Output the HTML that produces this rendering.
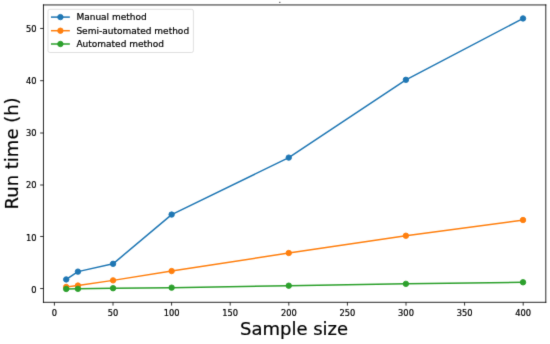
<!DOCTYPE html>
<html><head><meta charset="utf-8"><title>Run time vs sample size</title>
<style>html,body{margin:0;padding:0;background:#fff;overflow:hidden}svg{display:block}</style>
</head><body>
<svg width="550" height="344" viewBox="0 0 550 344">
<filter id="soft" x="0" y="0" width="550" height="344" filterUnits="userSpaceOnUse" color-interpolation-filters="sRGB"><feConvolveMatrix order="3" kernelMatrix="0.01 0.08 0.01 0.08 0.64 0.08 0.01 0.08 0.01" edgeMode="duplicate"/></filter>
<rect width="550" height="344" fill="#fff"/>
<g filter="url(#soft)">
<rect width="550" height="344" fill="#fff"/>
<defs><clipPath id="ax"><rect x="43.45" y="4.95" width="502.35" height="297.35"/></clipPath></defs>
<g clip-path="url(#ax)">
<polyline points="66.213,279.43 77.926,271.627 113.065,263.824 171.63,214.561 288.76,157.599 405.89,79.83 523.02,18.446" fill="none" stroke="#1f77b4" stroke-width="1.5" stroke-linejoin="round" stroke-linecap="square"/>
<circle cx="66.213" cy="279.43" r="2.715" fill="#1f77b4" stroke="#1f77b4" stroke-width="0.905"/>
<circle cx="77.926" cy="271.627" r="2.715" fill="#1f77b4" stroke="#1f77b4" stroke-width="0.905"/>
<circle cx="113.065" cy="263.824" r="2.715" fill="#1f77b4" stroke="#1f77b4" stroke-width="0.905"/>
<circle cx="171.63" cy="214.561" r="2.715" fill="#1f77b4" stroke="#1f77b4" stroke-width="0.905"/>
<circle cx="288.76" cy="157.599" r="2.715" fill="#1f77b4" stroke="#1f77b4" stroke-width="0.905"/>
<circle cx="405.89" cy="79.83" r="2.715" fill="#1f77b4" stroke="#1f77b4" stroke-width="0.905"/>
<circle cx="523.02" cy="18.446" r="2.715" fill="#1f77b4" stroke="#1f77b4" stroke-width="0.905"/>
<polyline points="66.213,286.973 77.926,285.569 113.065,280.367 171.63,271.055 288.76,253.004 405.89,235.734 523.02,220.023" fill="none" stroke="#ff7f0e" stroke-width="1.5" stroke-linejoin="round" stroke-linecap="square"/>
<circle cx="66.213" cy="286.973" r="2.715" fill="#ff7f0e" stroke="#ff7f0e" stroke-width="0.905"/>
<circle cx="77.926" cy="285.569" r="2.715" fill="#ff7f0e" stroke="#ff7f0e" stroke-width="0.905"/>
<circle cx="113.065" cy="280.367" r="2.715" fill="#ff7f0e" stroke="#ff7f0e" stroke-width="0.905"/>
<circle cx="171.63" cy="271.055" r="2.715" fill="#ff7f0e" stroke="#ff7f0e" stroke-width="0.905"/>
<circle cx="288.76" cy="253.004" r="2.715" fill="#ff7f0e" stroke="#ff7f0e" stroke-width="0.905"/>
<circle cx="405.89" cy="235.734" r="2.715" fill="#ff7f0e" stroke="#ff7f0e" stroke-width="0.905"/>
<circle cx="523.02" cy="220.023" r="2.715" fill="#ff7f0e" stroke="#ff7f0e" stroke-width="0.905"/>
<polyline points="66.213,288.95 77.926,288.846 113.065,288.222 171.63,287.649 288.76,285.673 405.89,283.852 523.02,282.291" fill="none" stroke="#2ca02c" stroke-width="1.5" stroke-linejoin="round" stroke-linecap="square"/>
<circle cx="66.213" cy="288.95" r="2.715" fill="#2ca02c" stroke="#2ca02c" stroke-width="0.905"/>
<circle cx="77.926" cy="288.846" r="2.715" fill="#2ca02c" stroke="#2ca02c" stroke-width="0.905"/>
<circle cx="113.065" cy="288.222" r="2.715" fill="#2ca02c" stroke="#2ca02c" stroke-width="0.905"/>
<circle cx="171.63" cy="287.649" r="2.715" fill="#2ca02c" stroke="#2ca02c" stroke-width="0.905"/>
<circle cx="288.76" cy="285.673" r="2.715" fill="#2ca02c" stroke="#2ca02c" stroke-width="0.905"/>
<circle cx="405.89" cy="283.852" r="2.715" fill="#2ca02c" stroke="#2ca02c" stroke-width="0.905"/>
<circle cx="523.02" cy="282.291" r="2.715" fill="#2ca02c" stroke="#2ca02c" stroke-width="0.905"/>
</g>
<path d="M43.45 4.95V302.3M545.8 4.95V302.3M43.45 4.95H545.8M43.45 302.3H545.8" stroke="#000" stroke-width="0.85" fill="none" stroke-linecap="square"/>
<path d="M54.4 302.3v3.3M113 302.3v3.3M171.6 302.3v3.3M230.2 302.3v3.3M288.8 302.3v3.3M347.4 302.3v3.3M406 302.3v3.3M464.6 302.3v3.3M523.2 302.3v3.3M43.45 288.56h-3.3M43.45 236.46h-3.3M43.45 185h-3.3M43.45 133h-3.3M43.45 80.7h-3.3M43.45 28.45h-3.3" stroke="#000" stroke-width="0.8" fill="none"/>
<g style="font-family:'DejaVu Sans','Liberation Sans',sans-serif;font-size:8.3px;stroke:#000;stroke-width:0.2px" fill="#000">
<text x="54.4" y="316" text-anchor="middle">0</text>
<text x="113" y="316" text-anchor="middle">50</text>
<text x="171.6" y="316" text-anchor="middle">100</text>
<text x="230.2" y="316" text-anchor="middle">150</text>
<text x="288.8" y="316" text-anchor="middle">200</text>
<text x="347.4" y="316" text-anchor="middle">250</text>
<text x="406" y="316" text-anchor="middle">300</text>
<text x="464.6" y="316" text-anchor="middle">350</text>
<text x="523.2" y="316" text-anchor="middle">400</text>
<text x="36.65" y="292.65" text-anchor="end">0</text>
<text x="36.65" y="240.63" text-anchor="end">10</text>
<text x="36.65" y="187.61" text-anchor="end">20</text>
<text x="36.65" y="135.59" text-anchor="end">30</text>
<text x="36.65" y="83.57" text-anchor="end">40</text>
<text x="36.65" y="31.55" text-anchor="end">50</text>
</g>
<text x="294.1" y="334.7" text-anchor="middle" style="font-family:'DejaVu Sans','Liberation Sans',sans-serif;font-size:18px;stroke:#000;stroke-width:0.2px">Sample size</text>
<text transform="translate(17.7 153.4) rotate(-90)" text-anchor="middle" style="font-family:'DejaVu Sans','Liberation Sans',sans-serif;font-size:18px;stroke:#000;stroke-width:0.2px">Run time (h)</text>
<rect x="48" y="9.3" width="145.4" height="43.2" rx="1.8" ry="1.8" fill="#fff" fill-opacity="0.8" stroke="#ccc" stroke-opacity="0.8" stroke-width="0.75"/>
<path d="M51.7 17.1H69.1" stroke="#1f77b4" stroke-width="1.5" stroke-linecap="square"/>
<circle cx="60.4" cy="17.1" r="2.715" fill="#1f77b4" stroke="#1f77b4" stroke-width="0.905"/>
<text x="76.4" y="20.35" style="font-family:'DejaVu Sans','Liberation Sans',sans-serif;font-size:9px;stroke:#000;stroke-width:0.2px">Manual method</text>
<path d="M51.7 30.7H69.1" stroke="#ff7f0e" stroke-width="1.5" stroke-linecap="square"/>
<circle cx="60.4" cy="30.7" r="2.715" fill="#ff7f0e" stroke="#ff7f0e" stroke-width="0.905"/>
<text x="76.4" y="33.95" style="font-family:'DejaVu Sans','Liberation Sans',sans-serif;font-size:9px;stroke:#000;stroke-width:0.2px">Semi-automated method</text>
<path d="M51.7 44H69.1" stroke="#2ca02c" stroke-width="1.5" stroke-linecap="square"/>
<circle cx="60.4" cy="44" r="2.715" fill="#2ca02c" stroke="#2ca02c" stroke-width="0.905"/>
<text x="76.4" y="47.25" style="font-family:'DejaVu Sans','Liberation Sans',sans-serif;font-size:9px;stroke:#000;stroke-width:0.2px">Automated method</text>
<rect x="279.2" y="1.8" width="1.2" height="1.2" fill="#555"/>
</g>
</svg>
</body></html>
